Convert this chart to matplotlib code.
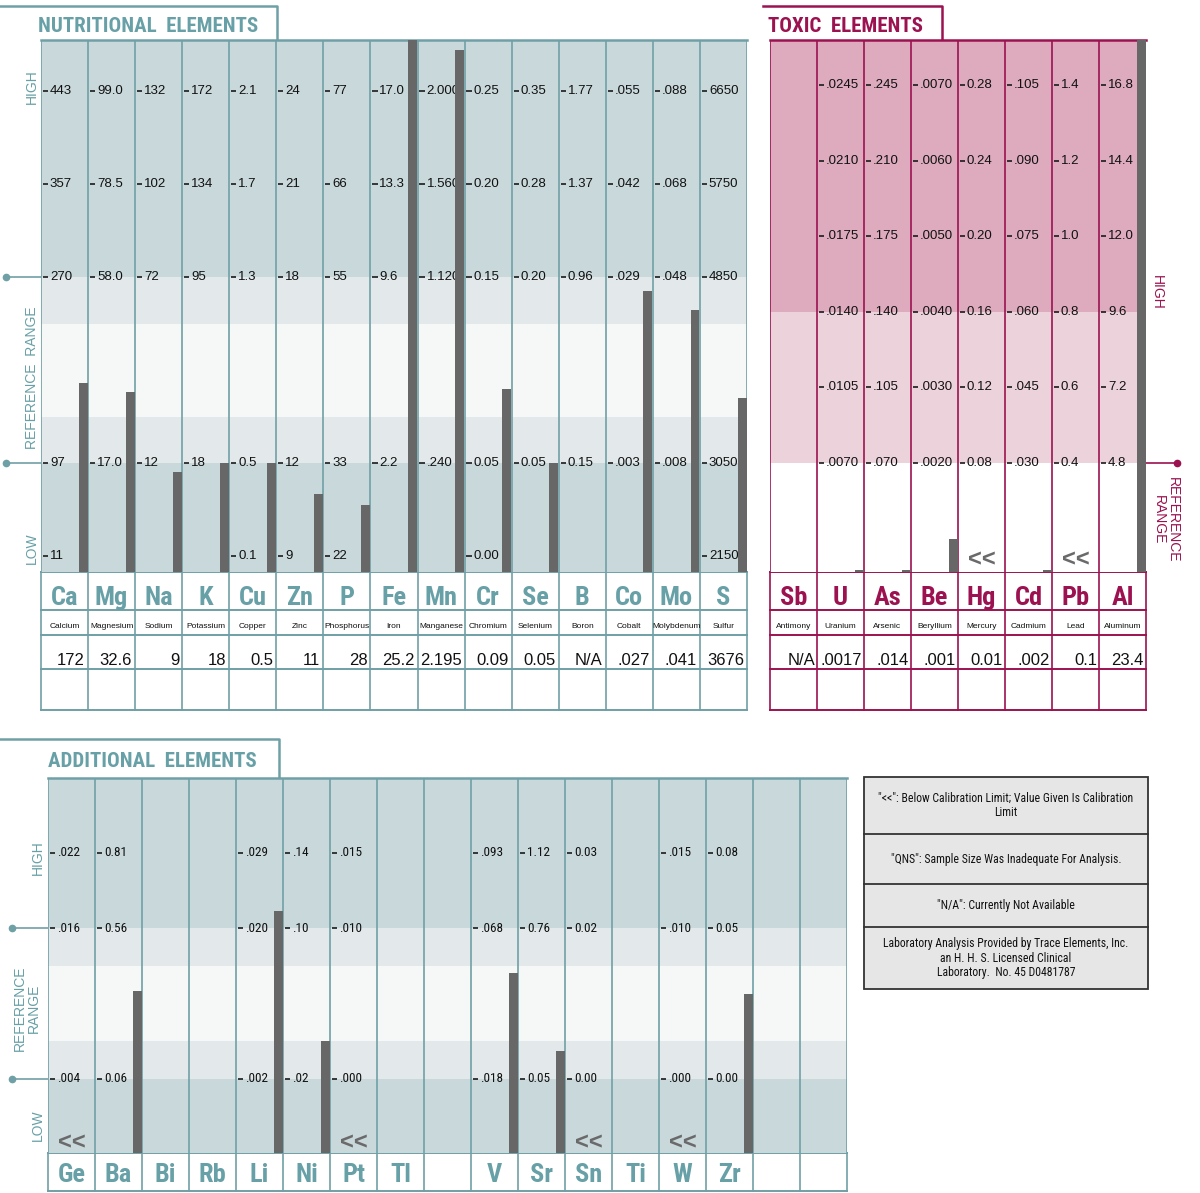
import numpy as np
import matplotlib.pyplot as plt
from matplotlib.patches import Rectangle
from matplotlib import font_manager as fm

W, H = 1200, 1193

TEAL = '#6fa0a6'
TEAL_TXT = '#67a0a6'
MAGENTA = '#9c1250'
BAR = '#676767'
ARIAL = ['Liberation Sans', 'DejaVu Sans']

# pick a narrow face if one is installed, else shrink the regular one
_fonts = fm.fontManager.ttflist
_names = {f.name for f in _fonts}
NARROW, NARROW_STRETCH, NSCALE = ARIAL, 'normal', 0.82
for cand in ['Liberation Sans Narrow', 'Arial Narrow', 'Roboto Condensed', 'Open Sans Condensed',
             'DejaVu Sans Condensed']:
    if cand in _names:
        NARROW, NARROW_STRETCH, NSCALE = [cand, 'DejaVu Sans'], 'normal', 1.0
        if cand == 'DejaVu Sans Condensed':
            NSCALE = 0.9
        break
else:
    if any(f.name == 'DejaVu Sans' and f.stretch == 'condensed' for f in _fonts):
        NARROW, NARROW_STRETCH, NSCALE = ['DejaVu Sans'], 'condensed', 0.9

# nutritional elements
nut_symbols = ['Ca', 'Mg', 'Na', 'K', 'Cu', 'Zn', 'P', 'Fe', 'Mn', 'Cr', 'Se', 'B', 'Co', 'Mo', 'S']
nut_names = ['Calcium', 'Magnesium', 'Sodium', 'Potassium', 'Copper', 'Zinc', 'Phosphorus', 'Iron',
             'Manganese', 'Chromium', 'Selenium', 'Boron', 'Cobalt', 'Molybdenum', 'Sulfur']
nut_results = ['172', '32.6', '9', '18', '0.5', '11', '28', '25.2', '2.195', '0.09', '0.05', 'N/A',
               '.027', '.041', '3676']
# scale labels at levels 0 (low), 1 (ref low), 3 (ref high), 4, 5
nut_levels = [0, 1, 3, 4, 5]
nut_ticks = [
    ['11', '97', '270', '357', '443'],
    ['', '17.0', '58.0', '78.5', '99.0'],
    ['', '12', '72', '102', '132'],
    ['', '18', '95', '134', '172'],
    ['0.1', '0.5', '1.3', '1.7', '2.1'],
    ['9', '12', '18', '21', '24'],
    ['22', '33', '55', '66', '77'],
    ['', '2.2', '9.6', '13.3', '17.0'],
    ['', '.240', '1.120', '1.560', '2.000'],
    ['0.00', '0.05', '0.15', '0.20', '0.25'],
    ['', '0.05', '0.20', '0.28', '0.35'],
    ['', '0.15', '0.96', '1.37', '1.77'],
    ['', '.003', '.029', '.042', '.055'],
    ['', '.008', '.048', '.068', '.088'],
    ['2150', '3050', '4850', '5750', '6650'],
]

# toxic elements
tox_symbols = ['Sb', 'U', 'As', 'Be', 'Hg', 'Cd', 'Pb', 'Al']
tox_names = ['Antimony', 'Uranium', 'Arsenic', 'Beryllium', 'Mercury', 'Cadmium', 'Lead', 'Aluminum']
tox_results = ['N/A', '.0017', '.014', '.001', '0.01', '.002', '0.1', '23.4']
tox_below_cal = ['Hg', 'Pb']
tox_levels = [0, 1, 2, 3, 4, 5]
tox_ticks = [
    None,
    ['.0070', '.0105', '.0140', '.0175', '.0210', '.0245'],
    ['.070', '.105', '.140', '.175', '.210', '.245'],
    ['.0020', '.0030', '.0040', '.0050', '.0060', '.0070'],
    ['0.08', '0.12', '0.16', '0.20', '0.24', '0.28'],
    ['.030', '.045', '.060', '.075', '.090', '.105'],
    ['0.4', '0.6', '0.8', '1.0', '1.2', '1.4'],
    ['4.8', '7.2', '9.6', '12.0', '14.4', '16.8'],
]

# additional elements
add_symbols = ['Ge', 'Ba', 'Bi', 'Rb', 'Li', 'Ni', 'Pt', 'Tl', '', 'V', 'Sr', 'Sn', 'Ti', 'W', 'Zr', '', '']
add_values = [None, 0.35, None, None, 0.022, 0.040, None, None, None, 0.053, 0.18, None, None, None,
              0.030, None, None]
add_below_cal = ['Ge', 'Pt', 'Sn', 'W']
add_levels = [0, 2, 3]
add_ticks = [
    ['.004', '.016', '.022'],
    ['0.06', '0.56', '0.81'],
    None, None,
    ['.002', '.020', '.029'],
    ['.02', '.10', '.14'],
    ['.000', '.010', '.015'],
    None, None,
    ['.018', '.068', '.093'],
    ['0.05', '0.76', '1.12'],
    ['0.00', '0.02', '0.03'],
    None,
    ['.000', '.010', '.015'],
    ['0.00', '0.05', '0.08'],
    None, None,
]

legend_rows = [
    '"<<": Below Calibration Limit; Value Given Is Calibration\nLimit',
    '"QNS": Sample Size Was Inadequate For Analysis.',
    '"N/A": Currently Not Available',
    'Laboratory Analysis Provided by Trace Elements, Inc.\nan H. H. S. Licensed Clinical\nLaboratory.  No. 45 D0481787',
]


def to_level(v, labels, levels):
    pts = [(float(l), lev) for l, lev in zip(labels, levels) if l]
    (v0, l0), (v1, l1) = pts[0], pts[-1]
    return l0 + (v - v0) * (l1 - l0) / (v1 - v0)


def ntext(ax, x, y, s, fs, **kw):
    # text in the narrow face (or shrunk regular face)
    return ax.text(x, y, s, fontsize=fs * NSCALE, family=NARROW, fontstretch=NARROW_STRETCH, **kw)


fig = plt.figure(figsize=(W / 100, H / 100), dpi=100)
bg = fig.add_axes([0, 0, 1, 1], zorder=0)
bg.set_xlim(0, W)
bg.set_ylim(H, 0)
bg.axis('off')


def px_axes(x0, y0, x1, y1):
    return fig.add_axes([x0 / W, 1 - y1 / H, (x1 - x0) / W, (y1 - y0) / H], zorder=1)


def section(box, n, level0_y, ppl, bands, line_color):
    x0, y0, x1, y1 = box
    ax = px_axes(x0, y0, x1, y1)
    ymin = -(y1 - level0_y) / ppl
    ymax = (level0_y - y0) / ppl
    ax.set_xlim(0, n)
    ax.set_ylim(ymin, ymax)
    ax.axis('off')
    for lo, hi, c in bands:
        ax.axhspan(max(lo, ymin), min(hi, ymax), color=c, lw=0, zorder=0)
    for i in range(n + 1):
        ax.axvline(i, color=line_color, lw=1.2, zorder=2)
    ax.axhline(ymax, color=line_color, lw=1.8, zorder=2, clip_on=False)
    return ax, ymin, ymax


def draw_ticks(ax, col, labels, levels, fs, narrow=False):
    for lab, lev in zip(labels, levels):
        if not lab:
            continue
        ax.plot([col + 0.04, col + 0.15], [lev, lev], color='#1a1a1a', lw=1.2,
                solid_capstyle='butt', zorder=3)
        if narrow:
            ntext(ax, col + 0.19, lev, lab, fs, va='center', ha='left', color='#111111', zorder=3)
        else:
            ax.text(col + 0.19, lev, lab, fontsize=fs, family=ARIAL, va='center', ha='left',
                    color='#111111', zorder=3)


def draw_bar(ax, col, lev, ymin, min_h=0.0):
    h = max(lev - ymin, min_h)
    ax.bar(col + 1 - 0.105, h, width=0.19, bottom=ymin, color=BAR, lw=0, zorder=4)


def table(xs, rows, color):
    for x in xs:
        bg.plot([x, x], [rows[0], rows[-1]], color=color, lw=1.2)
    for y in rows:
        bg.plot([xs[0], xs[-1]], [y, y], color=color, lw=1.4)


def tab(x0, x1, y_top, y_box, color):
    bg.plot([x0, x1, x1], [y_top, y_top, y_box], color=color, lw=1.8)


SYM_FS = 19 if NSCALE == 1.0 else 17.5
TITLE_FS = 15

# ---------------- NUTRITIONAL ----------------
light, dark, white = '#e3e9ea', '#c9d8db', '#f6f7f7'
ax_n, nmin, nmax = section((41, 40, 747, 572), len(nut_symbols), 556, 93,
                           [(-9, 1, dark), (1, 1.5, light), (1.5, 2.5, white),
                            (2.5, 3, light), (3, 9, dark)], TEAL)
for i, t in enumerate(nut_ticks):
    draw_ticks(ax_n, i, t, nut_levels, 9.5)
    if nut_results[i] != 'N/A':
        draw_bar(ax_n, i, to_level(float(nut_results[i]), t, nut_levels), nmin)

nut_edges = np.linspace(41, 747, len(nut_symbols) + 1)
table(nut_edges, [572, 610, 635, 669, 710], TEAL)
for i, s in enumerate(nut_symbols):
    cx = (nut_edges[i] + nut_edges[i + 1]) / 2
    bg.text(cx, 605, s, fontsize=SYM_FS, fontweight='bold', family=NARROW, fontstretch=NARROW_STRETCH,
            color=TEAL_TXT, ha='center', va='baseline')
    bg.text(cx, 626, nut_names[i], fontsize=6, family=ARIAL, color='#111', ha='center', va='center')
    bg.text(nut_edges[i + 1] - 3, 665, nut_results[i], fontsize=12, family=ARIAL, color='#111',
            ha='right', va='baseline')
tab(0, 277, 6, 40, TEAL)
ntext(bg, 38, 32, 'NUTRITIONAL  ELEMENTS', TITLE_FS, fontweight='bold', color=TEAL_TXT, va='baseline')
bg.text(32, 87, 'HIGH', rotation=90, fontsize=10, family=ARIAL, color=TEAL_TXT, ha='center', va='center')
bg.text(32, 378, 'REFERENCE  RANGE', rotation=90, fontsize=10, family=ARIAL, color=TEAL_TXT,
        ha='center', va='center')
bg.text(32, 548, 'LOW', rotation=90, fontsize=10, family=ARIAL, color=TEAL_TXT, ha='center', va='center')
for y in (277, 463):
    bg.plot([6, 41], [y, y], color=TEAL, lw=1.2)
    bg.plot(6, y, 'o', color=TEAL, ms=4.5)

# ---------------- TOXIC ----------------
ax_t, tmin, tmax = section((770, 40, 1146, 572), len(tox_symbols), 463, 75.6,
                           [(-9, 0, 'white'), (0, 2, '#ecd2da'), (2, 9, '#ddabbd')], MAGENTA)
for i, t in enumerate(tox_ticks):
    if t is None:
        continue
    draw_ticks(ax_t, i, t, tox_levels, 9.5)
    if tox_symbols[i] in tox_below_cal:
        ax_t.text(i + 0.5, tmin + 12 / 75.6, '<<', fontsize=17, fontweight='bold', family=ARIAL,
                  color='#6a6a6a', ha='center', va='center', zorder=5)
    elif tox_results[i] != 'N/A':
        draw_bar(ax_t, i, to_level(float(tox_results[i]), t, tox_levels), tmin, min_h=2.5 / 75.6)

tox_edges = np.linspace(770, 1146, len(tox_symbols) + 1)
table(tox_edges, [572, 610, 635, 669, 710], MAGENTA)
for i, s in enumerate(tox_symbols):
    cx = (tox_edges[i] + tox_edges[i + 1]) / 2
    bg.text(cx, 605, s, fontsize=SYM_FS, fontweight='bold', family=NARROW, fontstretch=NARROW_STRETCH,
            color=MAGENTA, ha='center', va='baseline')
    bg.text(cx, 626, tox_names[i], fontsize=6, family=ARIAL, color='#111', ha='center', va='center')
    bg.text(tox_edges[i + 1] - 2, 665, tox_results[i], fontsize=12, family=ARIAL, color='#111',
            ha='right', va='baseline')
tab(763, 942, 6, 40, MAGENTA)
ntext(bg, 768, 32, 'TOXIC  ELEMENTS', TITLE_FS, fontweight='bold', color=MAGENTA, va='baseline')
bg.text(1157, 292, 'HIGH', rotation=-90, fontsize=10, family=ARIAL, color=MAGENTA,
        ha='center', va='center')
bg.text(1166, 520, 'REFERENCE\nRANGE', rotation=-90, fontsize=10, family=ARIAL, color=MAGENTA,
        ha='center', va='center', multialignment='center', linespacing=1.0)
bg.plot([1146, 1177], [463, 463], color=MAGENTA, lw=1.2)
bg.plot(1177, 463, 'o', color=MAGENTA, ms=4.5)

# ---------------- ADDITIONAL ----------------
ax_a, amin, amax = section((48, 778, 847, 1153), len(add_symbols), 1079, 75.5,
                           [(-9, 0, dark), (0, 0.5, light), (0.5, 1.5, white),
                            (1.5, 2, light), (2, 9, dark)], TEAL)
for i, t in enumerate(add_ticks):
    if add_symbols[i] in add_below_cal:
        ax_a.text(i + 0.5, amin + 10 / 75.5, '<<', fontsize=17, fontweight='bold', family=ARIAL,
                  color='#6a6a6a', ha='center', va='center', zorder=5)
    if t is None:
        continue
    draw_ticks(ax_a, i, t, add_levels, 9.5, narrow=True)
    if add_values[i] is not None:
        draw_bar(ax_a, i, to_level(add_values[i], t, add_levels), amin)

add_edges = np.linspace(48, 847, len(add_symbols) + 1)
table(add_edges, [1153, 1191], TEAL)
for i, s in enumerate(add_symbols):
    cx = (add_edges[i] + add_edges[i + 1]) / 2
    bg.text(cx, 1182, s, fontsize=SYM_FS, fontweight='bold', family=NARROW, fontstretch=NARROW_STRETCH,
            color=TEAL_TXT, ha='center', va='baseline')
tab(0, 279, 739, 778, TEAL)
ntext(bg, 48, 767, 'ADDITIONAL  ELEMENTS', TITLE_FS, fontweight='bold', color=TEAL_TXT, va='baseline')
bg.text(38, 858, 'HIGH', rotation=90, fontsize=10, family=ARIAL, color=TEAL_TXT, ha='center', va='center')
bg.text(27, 1008, 'REFERENCE\nRANGE', rotation=90, fontsize=10, family=ARIAL, color=TEAL_TXT,
        ha='center', va='center', multialignment='center', linespacing=1.0)
bg.text(38, 1125, 'LOW', rotation=90, fontsize=10, family=ARIAL, color=TEAL_TXT, ha='center', va='center')
for y in (928, 1079):
    bg.plot([12, 48], [y, y], color=TEAL, lw=1.2)
    bg.plot(12, y, 'o', color=TEAL, ms=4.5)

# ---------------- legend box ----------------
bg.add_patch(Rectangle((864, 777), 284, 212, facecolor='#e6e6e6', edgecolor='#333333', lw=1.3))
seps = [777, 834, 884, 927, 989]
for y in seps[1:-1]:
    bg.plot([864, 1148], [y, y], color='#333333', lw=1.3)
for k, txt in enumerate(legend_rows):
    ntext(bg, 1006, (seps[k] + seps[k + 1]) / 2, txt, 8.5, color='#111',
          ha='center', va='center', multialignment='center', linespacing=1.15)

fig.savefig('out.png', dpi=100)
